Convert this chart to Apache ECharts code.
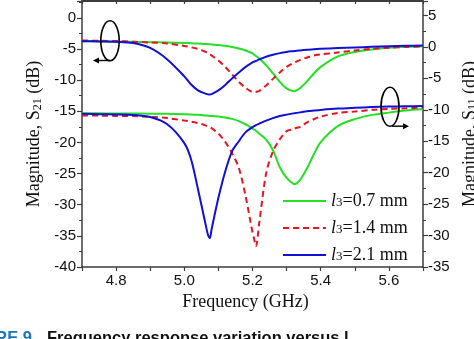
<!DOCTYPE html>
<html>
<head>
<meta charset="utf-8">
<script src="https://cdn.jsdelivr.net/npm/echarts@6/dist/echarts.min.js"></script>
<style>html,body{margin:0;padding:0;background:#fff;overflow:hidden;width:474px;height:339px;}#c{width:474px;height:339px;overflow:hidden;}</style>
</head>
<body>
<div id="c"></div>
<script>
// Frequency grid (GHz)
var freq = [4.70,4.75,4.80,4.85,4.90,4.95,5.00,5.02,5.04,5.06,5.07,5.075,5.08,5.10,5.12,5.14,5.16,5.18,5.20,5.205,5.21,5.22,5.24,5.26,5.28,5.30,5.32,5.325,5.33,5.34,5.36,5.38,5.40,5.45,5.50,5.55,5.60,5.65,5.70];
var seriesNames = ['l3=0.7 mm', 'l3=1.4 mm', 'l3=2.1 mm'];
// S21 (left axis, dB)
var s21_07 = [-3.75,-3.77,-3.80,-3.85,-3.91,-3.96,-4.04,-4.07,-4.12,-4.20,-4.23,-4.25,-4.28,-4.36,-4.49,-4.68,-4.92,-5.24,-5.72,-5.92,-6.12,-6.52,-7.64,-8.93,-10.29,-11.33,-11.78,-11.74,-11.62,-11.25,-10.20,-8.93,-7.88,-6.20,-5.48,-5.08,-4.81,-4.63,-4.55];
var s21_14 = [-3.64,-3.69,-3.73,-3.83,-3.96,-4.12,-4.52,-4.73,-5.00,-5.40,-5.64,-5.84,-6.04,-6.84,-7.88,-9.09,-10.29,-11.25,-11.90,-11.92,-11.90,-11.73,-10.85,-9.80,-8.77,-7.88,-7.24,-7.12,-7.00,-6.76,-6.36,-6.04,-5.88,-5.56,-5.24,-4.97,-4.79,-4.68,-4.60];
var s21_21 = [-3.75,-3.80,-3.85,-4.04,-4.84,-6.68,-9.40,-10.70,-11.65,-12.13,-12.29,-12.32,-12.26,-11.65,-10.77,-9.73,-8.77,-7.88,-7.16,-7.03,-6.92,-6.68,-6.25,-5.93,-5.67,-5.48,-5.35,-5.32,-5.29,-5.24,-5.13,-5.03,-4.97,-4.86,-4.76,-4.66,-4.57,-4.50,-4.44];
// S11 (right axis, dB)
var s11_07 = [-10.57,-10.57,-10.59,-10.60,-10.61,-10.64,-10.69,-10.73,-10.80,-10.89,-10.94,-10.97,-11.00,-11.05,-11.21,-11.45,-11.80,-12.33,-13.00,-13.16,-13.32,-13.80,-14.75,-16.43,-19.14,-20.84,-21.77,-21.80,-21.69,-21.13,-19.30,-17.07,-15.15,-12.60,-11.48,-10.81,-10.45,-10.13,-9.89];
var s11_14 = [-10.89,-10.93,-10.97,-11.00,-11.12,-11.32,-11.72,-11.88,-12.12,-12.44,-12.68,-12.80,-12.92,-13.80,-15.10,-16.90,-19.25,-23.80,-29.50,-30.60,-31.70,-27.90,-20.10,-16.60,-14.70,-13.40,-13.10,-12.95,-12.85,-12.70,-12.00,-11.50,-11.08,-10.50,-10.29,-10.00,-9.86,-9.76,-9.66];
var s11_21 = [-10.64,-10.69,-10.73,-10.81,-11.16,-12.30,-15.30,-17.90,-22.60,-27.60,-30.00,-30.40,-29.00,-24.00,-19.80,-16.60,-15.00,-13.56,-12.76,-12.60,-12.44,-12.20,-11.72,-11.32,-11.00,-10.77,-10.57,-10.53,-10.49,-10.41,-10.25,-10.13,-10.02,-9.81,-9.68,-9.57,-9.49,-9.44,-9.41];
var leftTicks = {min: -40, max: 2.7, interval: 5};
var rightTicks = {min: -35, max: 7.3, interval: 5};
var xTicks = {min: 4.7, max: 5.7, interval: 0.1};

var colors = ['#22e022', '#e8141e', '#1010d6'];
function pairs(arr){ return freq.map(function(f,i){ return [f, arr[i]]; }); }
function mk(name, arr, yIdx, ci){
  return {
    name: name, type: 'line', xAxisIndex: 0, yAxisIndex: yIdx, data: pairs(arr),
    symbol: 'none', smooth: 0.3, silent: true, animation: false,
    lineStyle: {color: colors[ci], width: 2, type: ci === 1 ? [6,4] : 'solid'},
    itemStyle: {color: colors[ci]}
  };
}
var axisCol = '#3c3c3c';
var tickFont = {fontFamily: 'Liberation Sans, Arial, sans-serif', fontSize: 15, color: '#111'};
function yAxisLabelFmt(v){ return (Math.abs(v % 5) < 1e-6) ? String(v) : ''; }

var chart = echarts.init(document.getElementById('c'), null, {renderer: 'canvas', width: 474, height: 339});
chart.setOption({
  animation: false,
  grid: {left: 82, right: 51, top: 1, bottom: 72, containLabel: false, outerBoundsMode: 'none'},
  legend: {
    orient: 'vertical', left: 282, top: 192, padding: 0, itemWidth: 43, itemHeight: 14, itemGap: 9,
    data: seriesNames,
    itemStyle: {opacity: 0},
    formatter: function(n){ return '{i|l}{s|3}{t|' + n.slice(2) + '}'; },
    textStyle: {
      color: '#111',
      rich: {
        i: {fontFamily: 'Liberation Serif', fontStyle: 'italic', fontSize: 18, lineHeight: 16, color: '#111'},
        s: {fontFamily: 'Liberation Serif', fontSize: 13, lineHeight: 16, verticalAlign: 'bottom', color: '#111'},
        t: {fontFamily: 'Liberation Serif', fontSize: 18, lineHeight: 16, color: '#111'}
      }
    }
  },
  xAxis: [{
    type: 'value', position: 'bottom', min: xTicks.min, max: xTicks.max, interval: xTicks.interval,
    name: 'Frequency (GHz)', nameLocation: 'middle', nameGap: 22,
    nameTextStyle: {fontFamily: 'Liberation Serif', fontSize: 18, color: '#111', padding: [0, 14, 0, 0]},
    axisLine: {show: true, onZero: false, lineStyle: {color: axisCol, width: 1.5}},
    axisTick: {show: true, inside: false, length: 4, lineStyle: {color: axisCol, width: 1.2}},
    axisLabel: Object.assign({margin: 6, formatter: function(v){
      var k = Math.round(v * 10); return (k % 2 === 0 && v > 4.71 && v < 5.69) ? v.toFixed(1) : ''; }}, tickFont),
    splitLine: {show: false}
  }, {
    type: 'value', position: 'top', min: xTicks.min, max: xTicks.max, interval: xTicks.interval,
    axisLine: {show: true, onZero: false, lineStyle: {color: axisCol, width: 2}},
    axisTick: {show: true, inside: true, length: 3, lineStyle: {color: axisCol, width: 1.2}},
    axisLabel: {show: false}, splitLine: {show: false}
  }],
  yAxis: [{
    type: 'value', position: 'left', min: leftTicks.min, max: leftTicks.max, interval: leftTicks.interval,
    name: 'Magnitude, S{sub|21} (dB)', nameLocation: 'middle', nameGap: 31, nameRotate: 90,
    nameTextStyle: {fontFamily: 'Liberation Serif', fontSize: 18, color: '#111',
      rich: {sub: {fontFamily: 'Liberation Serif', fontSize: 12, verticalAlign: 'bottom', color: '#111'}}},
    axisLine: {show: true, onZero: false, lineStyle: {color: axisCol, width: 1.5}},
    axisTick: {show: true, inside: false, length: 5, lineStyle: {color: axisCol, width: 1.2}},
    minorTick: {show: true, splitNumber: 2, length: 3, lineStyle: {color: axisCol, width: 1}},
    axisLabel: Object.assign({margin: 6, formatter: yAxisLabelFmt}, tickFont),
    splitLine: {show: false}
  }, {
    type: 'value', position: 'right', min: rightTicks.min, max: rightTicks.max, interval: rightTicks.interval,
    name: 'Magnitude, S{sub|11} (dB)', nameLocation: 'middle', nameGap: 38, nameRotate: 90,
    nameTextStyle: {fontFamily: 'Liberation Serif', fontSize: 18, color: '#111',
      rich: {sub: {fontFamily: 'Liberation Serif', fontSize: 12, verticalAlign: 'bottom', color: '#111'}}},
    axisLine: {show: true, onZero: false, lineStyle: {color: axisCol, width: 1.5}},
    axisTick: {show: true, inside: false, length: 5, lineStyle: {color: axisCol, width: 1.2}},
    minorTick: {show: true, splitNumber: 2, length: 3, lineStyle: {color: axisCol, width: 1}},
    axisLabel: Object.assign({margin: 5, formatter: yAxisLabelFmt}, tickFont),
    splitLine: {show: false}
  }],
  series: [
    mk(seriesNames[0], s21_07, 0, 0),
    mk(seriesNames[1], s21_14, 0, 1),
    mk(seriesNames[2], s21_21, 0, 2),
    mk(seriesNames[0], s11_07, 1, 0),
    mk(seriesNames[1], s11_14, 1, 1),
    mk(seriesNames[2], s11_21, 1, 2)
  ],
  graphic: [
    {type: 'ellipse', shape: {cx: 110, cy: 40.7, rx: 9.2, ry: 20}, style: {fill: 'none', stroke: '#000', lineWidth: 1.6}, z: 100},
    {type: 'polyline', shape: {points: [[110, 60.5], [96, 60.5]]}, style: {stroke: '#000', lineWidth: 1.4, fill: 'none'}, z: 100},
    {type: 'polygon', shape: {points: [[93, 60.5], [99, 57.5], [99, 63.5]]}, style: {fill: '#000'}, z: 100},
    {type: 'ellipse', shape: {cx: 390, cy: 106.7, rx: 9, ry: 19.5}, style: {fill: 'none', stroke: '#000', lineWidth: 1.6}, z: 100},
    {type: 'polyline', shape: {points: [[392, 126.2], [405, 126.2]]}, style: {stroke: '#000', lineWidth: 1.4, fill: 'none'}, z: 100},
    {type: 'polygon', shape: {points: [[409, 126.2], [403, 123.2], [403, 129.2]]}, style: {fill: '#000'}, z: 100},
    {type: 'text', x: 32, y: 330, style: {text: 'FIGURE 9', align: 'right', fill: '#1b75bb', font: 'bold 16.5px "Liberation Sans", Arial, sans-serif'}},
    {type: 'text', x: 47, y: 330, style: {text: 'Frequency response variation versus l', fill: '#111', font: 'bold 16.5px "Liberation Sans", Arial, sans-serif'}}
  ]
});
</script>
</body>
</html>
